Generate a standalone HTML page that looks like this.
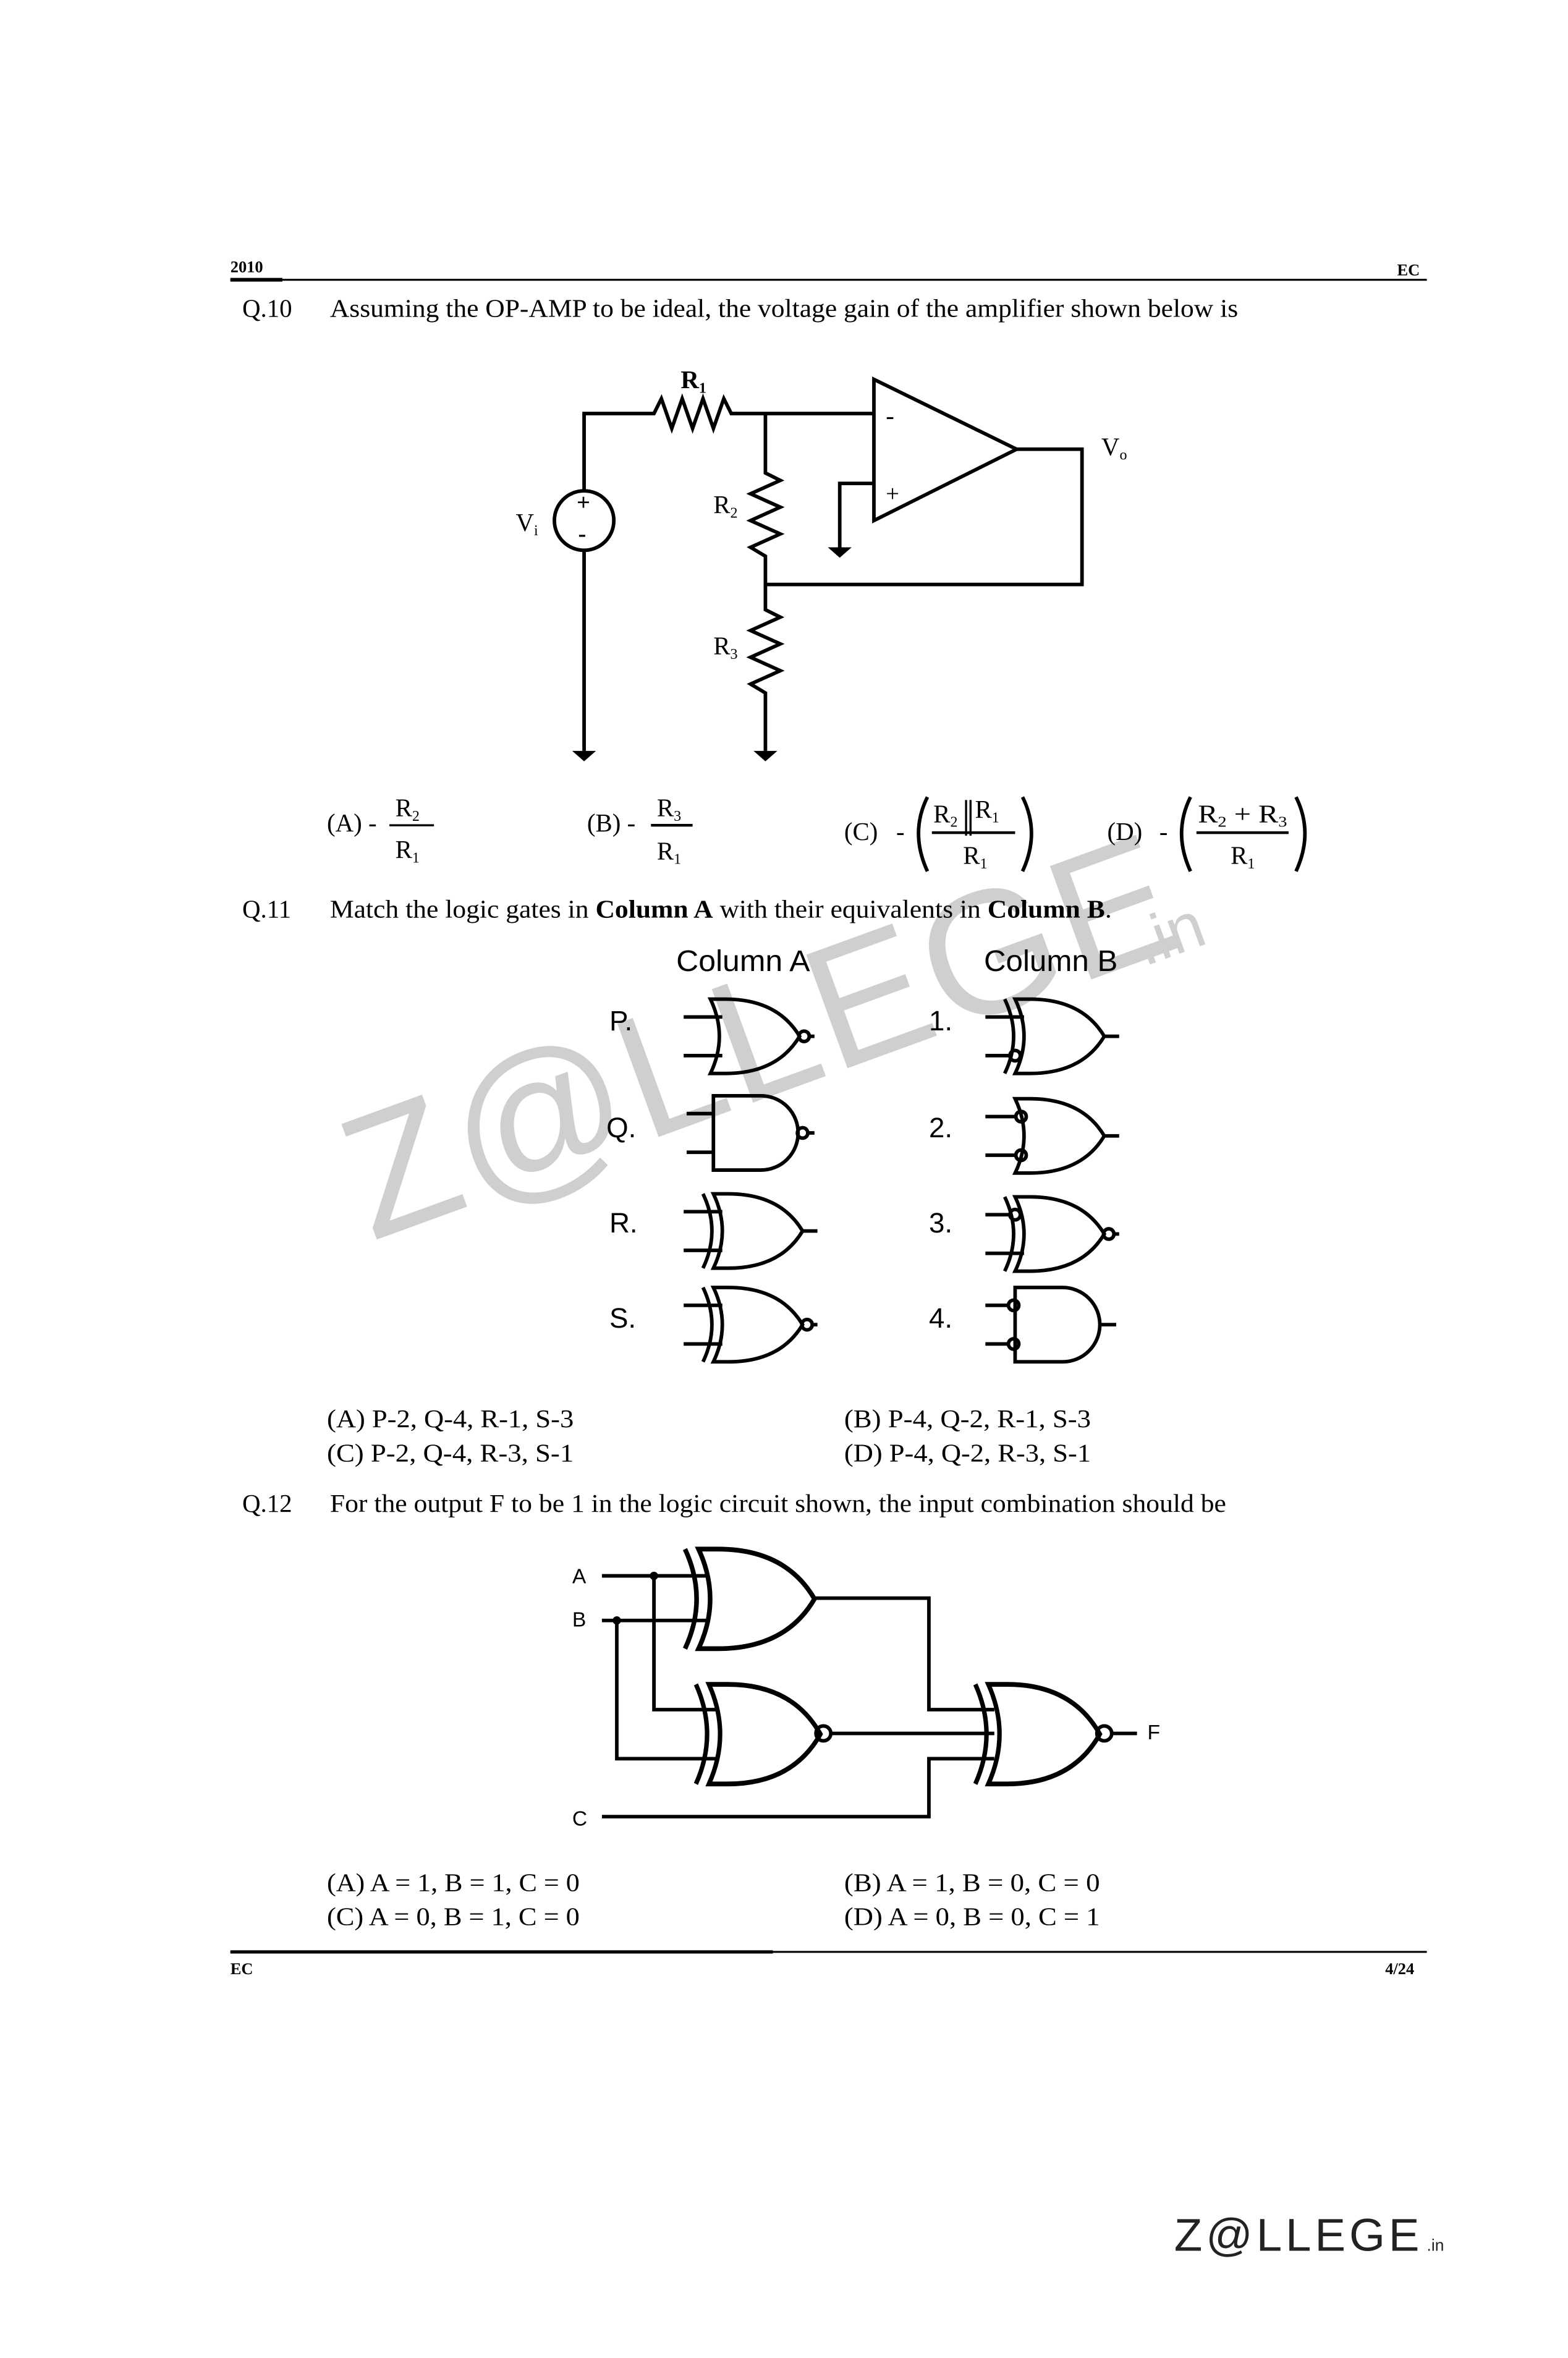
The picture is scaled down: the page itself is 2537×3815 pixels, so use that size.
<!DOCTYPE html>
<html><head><meta charset="utf-8"><style>
html,body{margin:0;padding:0;background:#fff}
svg{display:block}
text{font-family:"Liberation Serif",serif;fill:#000}
text.s,.s text{font-family:"Liberation Sans",sans-serif}
.w{stroke:#000;stroke-width:2.4;fill:none;stroke-linejoin:miter}
.g{stroke:#000;stroke-width:2.4;fill:none;vector-effect:non-scaling-stroke}
</style></head><body>
<svg width="2537" height="3815" viewBox="0 0 1055 1586" xmlns="http://www.w3.org/2000/svg">
<defs>
<path id="orb" d="M0,0 L10,0 Q45,0 60,25 Q45,50 10,50 L0,50 Q12,25 0,0 Z"/>
<path id="xc" d="M-7,0 Q5,25 -7,50"/>
<path id="andb" d="M0,0 L32,0 A25,25 0 0 1 32,50 L0,50 Z"/>
</defs>

<!-- watermark -->
<text class="s" x="0" y="0" transform="translate(250,835) rotate(-20)" style="font-size:118px;fill:#cfcfcf;letter-spacing:2px">Z@LLEGE</text>
<text class="s" x="0" y="0" transform="translate(770,650) rotate(-20)" style="font-size:44px;fill:#cfcfcf">.in</text>

<!-- header -->
<text x="155" y="183" style="font-size:11px;font-weight:bold">2010</text>
<text x="940" y="185" style="font-size:11px;font-weight:bold">EC</text>
<line x1="155" y1="188" x2="960" y2="188" stroke="#000" stroke-width="1.3"/>
<line x1="155" y1="188" x2="190" y2="188" stroke="#000" stroke-width="2.5"/>

<text x="163" y="213" style="font-size:17px">Q.10</text>
<text x="222" y="213" style="font-size:17px" textLength="611" lengthAdjust="spacingAndGlyphs">Assuming the OP-AMP to be ideal, the voltage gain of the amplifier shown below is</text>

<!-- Q10 circuit -->
<g class="w">
<circle cx="393" cy="350" r="20"/>
<polyline points="393,330 393,278 440,278 445,268 452,288 459,268 466,288 473,268 480,288 487,268 492,278 588,278"/>
<polyline points="393,370 393,505"/>
<polyline points="515,278 515,318 525,323 505,332 525,341 505,350 525,359 505,368 515,374 515,393 728,393 728,302 682,302"/>
<polyline points="515,393 515,410 525,415 505,424 525,433 505,442 525,451 505,460 515,466 515,505"/>
<polygon points="588,255 588,350 684,302"/>
<polyline points="588,325 565,325 565,368"/>
</g>
<g fill="#000">
<polygon points="385,505 401,505 393,512"/>
<polygon points="507,505 523,505 515,512"/>
<polygon points="557,368 573,368 565,375"/>
</g>
<text x="388" y="343" style="font-size:16px;font-weight:bold">+</text>
<text x="389" y="364" style="font-size:16px;font-weight:bold">-</text>
<text x="596" y="285" style="font-size:17px">-</text>
<text x="596" y="337" style="font-size:16px">+</text>
<text x="458" y="261" style="font-size:17px;font-weight:bold">R<tspan style="font-size:10px" dy="3">1</tspan></text>
<text x="480" y="345" style="font-size:17px">R<tspan style="font-size:10px" dy="3">2</tspan></text>
<text x="480" y="440" style="font-size:17px">R<tspan style="font-size:10px" dy="3">3</tspan></text>
<text x="347" y="357" style="font-size:17px">V<tspan style="font-size:10px" dy="3">i</tspan></text>
<text x="741" y="306" style="font-size:17px">V<tspan style="font-size:10px" dy="3">o</tspan></text>

<!-- Q10 options -->
<g style="font-size:17px">
<text x="220" y="559">(A) -</text>
<text x="266" y="549">R<tspan style="font-size:10px" dy="3">2</tspan></text>
<line x1="262" y1="555" x2="292" y2="555" stroke="#000" stroke-width="1.4"/>
<text x="266" y="577">R<tspan style="font-size:10px" dy="3">1</tspan></text>

<text x="395" y="559">(B) -</text>
<text x="442" y="549">R<tspan style="font-size:10px" dy="3">3</tspan></text>
<line x1="438" y1="555" x2="466" y2="555" stroke="#000" stroke-width="1.8"/>
<text x="442" y="578">R<tspan style="font-size:10px" dy="3">1</tspan></text>

<text x="568" y="565">(C)</text>
<text x="603" y="565">-</text>
<path d="M624,536 Q612,560 624,586" class="w" stroke-width="1.2"/>
<text x="628" y="553">R<tspan style="font-size:10px" dy="3">2</tspan></text>
<line x1="650" y1="538" x2="650" y2="562" stroke="#000" stroke-width="1.4"/>
<line x1="653" y1="538" x2="653" y2="562" stroke="#000" stroke-width="1.4"/>
<text x="656" y="550">R<tspan style="font-size:10px" dy="3">1</tspan></text>
<line x1="627" y1="560" x2="683" y2="560" stroke="#000" stroke-width="1.8"/>
<text x="648" y="581">R<tspan style="font-size:10px" dy="3">1</tspan></text>
<path d="M688,536 Q700,560 688,586" class="w" stroke-width="1.2"/>

<text x="745" y="565">(D)</text>
<text x="780" y="565">-</text>
<path d="M801,536 Q789,560 801,586" class="w" stroke-width="1.2"/>
<text x="806" y="553" textLength="60" lengthAdjust="spacingAndGlyphs">R<tspan style="font-size:10px" dy="3">2</tspan><tspan dy="-3"> + R</tspan><tspan style="font-size:10px" dy="3">3</tspan></text>
<line x1="805" y1="560" x2="867" y2="560" stroke="#000" stroke-width="1.8"/>
<text x="828" y="581">R<tspan style="font-size:10px" dy="3">1</tspan></text>
<path d="M872,536 Q884,560 872,586" class="w" stroke-width="1.2"/>
</g>

<!-- Q11 -->
<text x="163" y="617" style="font-size:17px">Q.11</text>
<text x="222" y="617" style="font-size:17px" textLength="526" lengthAdjust="spacingAndGlyphs">Match the logic gates in <tspan font-weight="bold">Column A</tspan> with their equivalents in <tspan font-weight="bold">Column B</tspan>.</text>
<text class="s" x="455" y="653" style="font-size:20px" textLength="90" lengthAdjust="spacingAndGlyphs">Column A</text>
<text class="s" x="662" y="653" style="font-size:20px" textLength="90" lengthAdjust="spacingAndGlyphs">Column B</text>
<g class="s" style="font-size:19px">
<text x="410" y="693">P.</text><text x="408" y="765">Q.</text><text x="410" y="829">R.</text><text x="410" y="893">S.</text>
<text x="625" y="693">1.</text><text x="625" y="765">2.</text><text x="625" y="829">3.</text><text x="625" y="893">4.</text>
</g>

<!-- Column A gates -->
<g class="w" stroke-width="2.2">
<g transform="translate(478,672)">
<use href="#orb"/><line x1="-18" y1="12" x2="8" y2="12"/><line x1="-18" y1="38" x2="8" y2="38"/>
<circle cx="63" cy="25" r="3.5"/><line x1="66.5" y1="25" x2="70" y2="25"/></g>
<g transform="translate(480,737)">
<use href="#andb"/><line x1="-18" y1="12" x2="0" y2="12"/><line x1="-18" y1="38" x2="0" y2="38"/>
<circle cx="60" cy="25" r="3.5"/><line x1="63.5" y1="25" x2="68" y2="25"/></g>
<g transform="translate(480,803)">
<use href="#orb"/><use href="#xc"/><line x1="-20" y1="12" x2="6" y2="12"/><line x1="-20" y1="38" x2="6" y2="38"/>
<line x1="60" y1="25" x2="70" y2="25"/></g>
<g transform="translate(480,866)">
<use href="#orb"/><use href="#xc"/><line x1="-20" y1="12" x2="6" y2="12"/><line x1="-20" y1="38" x2="6" y2="38"/>
<circle cx="63" cy="25" r="3.5"/><line x1="66.5" y1="25" x2="70" y2="25"/></g>

<g transform="translate(683,672)">
<use href="#orb"/><use href="#xc"/><line x1="-20" y1="12" x2="6" y2="12"/><line x1="-20" y1="38" x2="-4" y2="38"/>
<circle cx="0" cy="38" r="3.5"/><line x1="60" y1="25" x2="70" y2="25"/></g>
<g transform="translate(683,739)">
<use href="#orb"/><line x1="-20" y1="12" x2="0" y2="12"/><line x1="-20" y1="38" x2="0" y2="38"/>
<circle cx="4" cy="12" r="3.5"/><circle cx="4" cy="38" r="3.5"/><line x1="60" y1="25" x2="70" y2="25"/></g>
<g transform="translate(683,805)">
<use href="#orb"/><use href="#xc"/><line x1="-20" y1="12" x2="-4" y2="12"/><line x1="-20" y1="38" x2="6" y2="38"/>
<circle cx="0" cy="12" r="3.5"/><circle cx="63" cy="25" r="3.5"/><line x1="66.5" y1="25" x2="70" y2="25"/></g>
<g transform="translate(683,866)">
<use href="#andb"/><line x1="-20" y1="12" x2="-4" y2="12"/><line x1="-20" y1="38" x2="-4" y2="38"/>
<circle cx="-1" cy="12" r="3.5"/><circle cx="-1" cy="38" r="3.5"/><line x1="57" y1="25" x2="68" y2="25"/></g>
</g>

<g style="font-size:17px">
<text x="220" y="960" textLength="166" lengthAdjust="spacingAndGlyphs">(A)  P-2, Q-4, R-1, S-3</text>
<text x="568" y="960" textLength="166" lengthAdjust="spacingAndGlyphs">(B)  P-4, Q-2, R-1, S-3</text>
<text x="220" y="983" textLength="166" lengthAdjust="spacingAndGlyphs">(C)  P-2, Q-4, R-3, S-1</text>
<text x="568" y="983" textLength="166" lengthAdjust="spacingAndGlyphs">(D)  P-4, Q-2, R-3, S-1</text>
</g>

<!-- Q12 -->
<text x="163" y="1017" style="font-size:17px">Q.12</text>
<text x="222" y="1017" style="font-size:17px" textLength="603" lengthAdjust="spacingAndGlyphs">For the output F to be 1 in the logic circuit shown, the input combination should be</text>
<g class="s" style="font-size:14px">
<text x="385" y="1065">A</text><text x="385" y="1094">B</text><text x="385" y="1228">C</text><text x="772" y="1170">F</text>
</g>
<g class="w" stroke-width="2.2">
<g transform="translate(470,1042) scale(1.3,1.34)"><use href="#orb" class="g"/><use href="#xc" class="g"/></g>
<g transform="translate(477,1133) scale(1.25,1.34)"><use href="#orb" class="g"/><use href="#xc" class="g"/></g>
<g transform="translate(665,1133) scale(1.25,1.34)"><use href="#orb" class="g"/><use href="#xc" class="g"/></g>
<polyline points="405,1060 477,1060"/>
<polyline points="405,1090 477,1090"/>
<polyline points="440,1060 440,1150 482,1150"/>
<polyline points="415,1090 415,1183 482,1183"/>
<polyline points="548,1075 625,1075 625,1150 669,1150"/>
<circle cx="554" cy="1166" r="5"/>
<polyline points="559,1166 669,1166"/>
<circle cx="743" cy="1166" r="5"/>
<polyline points="748,1166 765,1166"/>
<polyline points="405,1222 625,1222 625,1183 669,1183"/>
</g>
<circle cx="440" cy="1060" r="2.8" fill="#000"/>
<circle cx="415" cy="1090" r="2.8" fill="#000"/>

<g style="font-size:17px">
<text x="220" y="1272" textLength="170" lengthAdjust="spacingAndGlyphs">(A) A = 1, B = 1, C = 0</text>
<text x="568" y="1272" textLength="172" lengthAdjust="spacingAndGlyphs">(B) A = 1, B = 0, C = 0</text>
<text x="220" y="1295" textLength="170" lengthAdjust="spacingAndGlyphs">(C) A = 0, B = 1, C = 0</text>
<text x="568" y="1295" textLength="172" lengthAdjust="spacingAndGlyphs">(D) A = 0, B = 0, C = 1</text>
</g>

<!-- footer -->
<line x1="155" y1="1313" x2="960" y2="1313" stroke="#000" stroke-width="1.3"/>
<line x1="155" y1="1313" x2="520" y2="1313" stroke="#000" stroke-width="2.2"/>
<text x="155" y="1328" style="font-size:11px;font-weight:bold">EC</text>
<text x="932" y="1328" style="font-size:11px;font-weight:bold">4/24</text>

<!-- logo -->
<text class="s" x="790" y="1514" style="font-size:31px;fill:#222" textLength="165" lengthAdjust="spacing">Z@LLEGE</text>
<text class="s" x="960" y="1514" style="font-size:11px;fill:#222">.in</text>
</svg>
</body></html>
